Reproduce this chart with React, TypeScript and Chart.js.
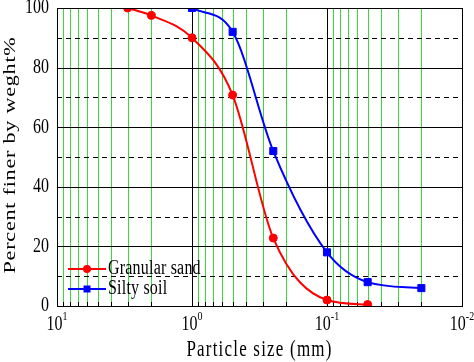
import React, { useEffect, useRef } from "react";
import { Chart, registerables } from "chart.js";

Chart.register(...registerables);

// ---- data ----
const particleSizeSand = [3, 2, 1, 0.5, 0.25, 0.1, 0.05];
const finerSand = [100, 97.5, 90, 70.8, 22.8, 2, 0.5];
const particleSizeSilt = [1, 0.5, 0.25, 0.1, 0.05, 0.02];
const finerSilt = [100, 92, 52, 18, 8, 6];
const seriesNames = ["Granular sand", "Silty soil"];
const seriesColors = ["#ff0000", "#0000ff"];
const yTickValues = [0, 20, 40, 60, 80, 100];
const yDashedValues = [10, 30, 50, 70, 90];
const xDecades = [10, 1, 0.1, 0.01];
const xDecadeExponents = ["1", "0", "-1", "-2"];
const xMinorMultipliers = [2, 3, 4, 5, 6, 7, 8, 9];
const xTitle = "Particle size (mm)";
const yTitle = "Percent finer by weght%";

const FONT = '"Liberation Serif", "Times New Roman", serif';
const STRETCH = 1.3;

function drawText(
  ctx: CanvasRenderingContext2D,
  s: string,
  x: number,
  y: number,
  size: number,
  align: CanvasTextAlign,
  baseline: CanvasTextBaseline,
  spacing = 0,
  rotate = false
) {
  ctx.save();
  ctx.translate(x, y);
  if (rotate) {
    ctx.rotate(-Math.PI / 2);
    ctx.scale(STRETCH, 1);
  } else {
    ctx.scale(1, STRETCH);
  }
  ctx.font = `${size}px ${FONT}`;
  (ctx as any).letterSpacing = spacing + "px";
  ctx.textAlign = align;
  ctx.textBaseline = baseline;
  ctx.fillStyle = "#000";
  ctx.fillText(s, 0, 0);
  ctx.restore();
}

function measure(ctx: CanvasRenderingContext2D, s: string, size: number) {
  ctx.save();
  ctx.font = `${size}px ${FONT}`;
  (ctx as any).letterSpacing = "0px";
  const w = ctx.measureText(s).width;
  ctx.restore();
  return w;
}

const gridPlugin = {
  id: "soilGrid",
  beforeDatasetsDraw(chart: any) {
    const { ctx, chartArea } = chart;
    const { left, right, top, bottom } = chartArea;
    const xs = chart.scales.x;
    const ys = chart.scales.y;
    ctx.save();
    // green minor vertical lines + small bottom ticks
    ctx.lineWidth = 1;
    for (let i = 1; i < xDecades.length; i++) {
      for (const m of xMinorMultipliers) {
        const v = xDecades[i] * m;
        const px = Math.round(xs.getPixelForValue(v)) + 0.5;
        ctx.strokeStyle = "#3ad83a";
        ctx.beginPath();
        ctx.moveTo(px, top);
        ctx.lineTo(px, bottom);
        ctx.stroke();
        ctx.strokeStyle = "#000";
        ctx.beginPath();
        ctx.moveTo(px, bottom);
        ctx.lineTo(px, bottom - 4);
        ctx.stroke();
      }
    }
    // dashed horizontal lines
    ctx.strokeStyle = "#000";
    ctx.setLineDash([5, 4]);
    for (const v of yDashedValues) {
      const py = Math.round(ys.getPixelForValue(v)) + 0.5;
      ctx.beginPath();
      ctx.moveTo(left, py);
      ctx.lineTo(right, py);
      ctx.stroke();
    }
    ctx.setLineDash([]);
    // solid horizontal lines
    for (const v of yTickValues) {
      const py = Math.round(ys.getPixelForValue(v)) + 0.5;
      ctx.beginPath();
      ctx.moveTo(left, py);
      ctx.lineTo(right, py);
      ctx.stroke();
    }
    // decade verticals
    for (const v of xDecades) {
      const px = Math.round(xs.getPixelForValue(v)) + 0.5;
      ctx.beginPath();
      ctx.moveTo(px, top);
      ctx.lineTo(px, bottom);
      ctx.stroke();
    }
    ctx.restore();
  },
  afterDraw(chart: any) {
    const { ctx, chartArea } = chart;
    const { left, right, top, bottom } = chartArea;
    const xs = chart.scales.x;
    const ys = chart.scales.y;
    ctx.save();
    // y tick labels
    for (const v of yTickValues) {
      drawText(ctx, String(v), left - 8, ys.getPixelForValue(v), 16, "right", "middle");
    }
    // x tick labels with superscript exponents
    xDecades.forEach((v, i) => {
      const px = xs.getPixelForValue(v);
      const w10 = measure(ctx, "10", 16);
      const wE = measure(ctx, xDecadeExponents[i], 10);
      const start = px - (w10 + wE) / 2;
      drawText(ctx, "10", start, bottom + 24, 16, "left", "alphabetic");
      drawText(ctx, xDecadeExponents[i], start + w10, bottom + 14, 10, "left", "alphabetic");
    });
    // axis titles
    drawText(ctx, xTitle, (left + right) / 2, bottom + 50, 17, "center", "alphabetic", 1.2);
    drawText(ctx, yTitle, 15, (top + bottom) / 2 - 2, 17, "center", "alphabetic", 0.6, true);
    // legend
    chart.data.datasets.forEach((ds: any, i: number) => {
      const ly = 269 + i * 20;
      ctx.strokeStyle = ds.borderColor;
      ctx.fillStyle = ds.backgroundColor;
      ctx.lineWidth = 2;
      ctx.beginPath();
      ctx.moveTo(left + 11, ly);
      ctx.lineTo(left + 49, ly);
      ctx.stroke();
      if (ds.pointStyle === "rect") {
        ctx.fillRect(left + 30 - 3.5, ly - 3.5, 7, 7);
      } else {
        ctx.beginPath();
        ctx.arc(left + 30, ly, 4, 0, Math.PI * 2);
        ctx.fill();
      }
      drawText(ctx, ds.label, left + 51, ly + 5, 16, "left", "alphabetic", 0.2);
    });
    // border box
    ctx.strokeStyle = "#000";
    ctx.lineWidth = 1;
    ctx.strokeRect(Math.round(left) + 0.5, Math.round(top) + 0.5, Math.round(right - left), Math.round(bottom - top));
    ctx.restore();
  },
};

export default function App() {
  const ref = useRef<HTMLCanvasElement | null>(null);
  useEffect(() => {
    document.body.style.margin = "0";
    const canvas = ref.current;
    if (!canvas) return;
    const chart = new Chart(canvas, {
      type: "scatter",
      data: {
        datasets: [
          {
            label: seriesNames[0],
            data: particleSizeSand.map((s, i) => ({ x: s, y: finerSand[i] })),
            borderColor: seriesColors[0],
            backgroundColor: seriesColors[0],
            pointStyle: "circle",
            pointRadius: 4,
            pointBorderWidth: 1,
            borderWidth: 2,
            showLine: true,
            cubicInterpolationMode: "monotone",
          },
          {
            label: seriesNames[1],
            data: particleSizeSilt.map((s, i) => ({ x: s, y: finerSilt[i] })),
            borderColor: seriesColors[1],
            backgroundColor: seriesColors[1],
            pointStyle: "rect",
            pointRadius: 5,
            pointBorderWidth: 1,
            borderWidth: 2,
            showLine: true,
            cubicInterpolationMode: "monotone",
          },
        ],
      },
      options: {
        animation: false,
        responsive: false,
        devicePixelRatio: 1,
        layout: { padding: { left: 57, right: 12, top: 8, bottom: 56 } },
        plugins: { legend: { display: false }, tooltip: { enabled: false } },
        scales: {
          x: { type: "logarithmic", min: 0.01, max: 10, reverse: true, display: false },
          y: { type: "linear", min: 0, max: 100, display: false },
        },
      } as any,
      plugins: [gridPlugin],
    });
    return () => chart.destroy();
  }, []);
  return (
    <div style={{ width: 474, height: 362, background: "#fff" }}>
      <canvas ref={ref} width={474} height={362} style={{ display: "block" }} />
    </div>
  );
}
